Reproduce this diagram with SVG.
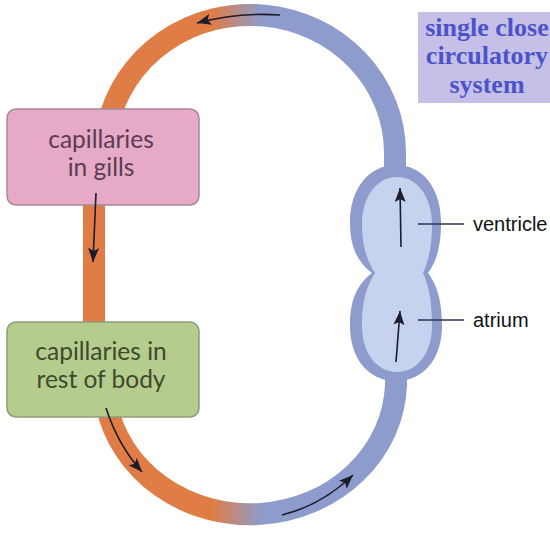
<svg xmlns="http://www.w3.org/2000/svg" width="550" height="534" viewBox="0 0 550 534">
  <style>
    .tube { fill: none; stroke-width: 22; }
    .flow { fill: none; stroke: #1c1c2a; stroke-width: 1.6; marker-end: url(#ah); }
    .lbl-line { stroke: #2b3550; stroke-width: 1.6; }
    .lbl { font-family: "Liberation Sans", Arial, sans-serif; font-size: 20px; fill: #111; }
    .box-text { font-family: Lato, "Open Sans", sans-serif; font-size: 24.5px; text-anchor: middle; }
    .title { font-family: "Liberation Serif", "Times New Roman", serif; font-weight: bold; font-size: 26px; fill: #4a54c8; text-anchor: middle; }
  </style>
  <defs>
    <linearGradient id="gTube" gradientUnits="userSpaceOnUse" x1="212" y1="0" x2="262" y2="0">
      <stop offset="0" stop-color="#E07D46"/>
      <stop offset="1" stop-color="#8D9BCD"/>
    </linearGradient>
    <marker id="ah" markerUnits="userSpaceOnUse" markerWidth="16" markerHeight="12" viewBox="0 0 16 12" refX="14" refY="6" orient="auto">
      <path d="M0 0.5 L14 6 L0 11.5 L3 6 Z" fill="#1c1c2a"/>
    </marker>
  </defs>

  <rect width="550" height="534" fill="#ffffff"/>

  <g id="connectors">
    <path class="tube" stroke="url(#gTube)" d="M 108 125 A 145 138 0 0 1 395 152 L 395 178"/>
    <path class="tube" stroke="#E07D46" d="M 94 200 L 94 330"/>
    <path class="tube" stroke="url(#gTube)" d="M 106.6 405 A 146 134 0 0 0 396 385 L 396 372"/>
  </g>

  <g id="heart">
    <path fill="#8D9BCD" d="M 396 165 C 424 165 441 190 441 222 C 441 248 436 262 428 273 C 436 284 442 298 442 326 C 442 358 424 381 396 381 C 368 381 350 358 350 326 C 350 298 358 284 372 273 C 358 262 350 248 350 222 C 350 190 368 165 396 165 Z"/>
    <path fill="#C6D3EE" d="M 397 177 C 418 177 432 198 432 224 C 432 248 428 262 423 273 C 428 284 432 298 432 326 C 432 352 418 372 397 372 C 376 372 362 352 362 326 C 362 298 368 284 375 273 C 368 262 362 248 362 224 C 362 198 376 177 397 177 Z"/>
  </g>

  <g id="gills">
    <rect x="7" y="109" width="192" height="96" rx="9" fill="#E6A9C6" stroke="#A7899A" stroke-width="1.5"/>
    <text class="box-text" x="101" y="148" fill="#5a3d52">capillaries</text>
    <text class="box-text" x="101" y="176" fill="#5a3d52">in gills</text>
  </g>

  <g id="body">
    <rect x="7" y="322" width="192" height="95" rx="9" fill="#B6CC8D" stroke="#8D9C7A" stroke-width="1.5"/>
    <text class="box-text" x="101" y="360" fill="#3c4a2e">capillaries in</text>
    <text class="box-text" x="101" y="388" fill="#3c4a2e">rest of body</text>
  </g>

  <g id="flow-arrows">
    <path class="flow" d="M 280 15 Q 238 12 197 23"/>
    <path class="flow" d="M 96 193 L 93 262"/>
    <path class="flow" d="M 106 408 Q 118 445 142 472"/>
    <path class="flow" d="M 282 515 Q 322 505 353 475"/>
    <path class="flow" d="M 401 247 L 400 188"/>
    <path class="flow" d="M 396 362 L 400 311"/>
  </g>

  <g id="ventricle-label">
    <line class="lbl-line" x1="418" y1="224" x2="464" y2="224"/>
    <text class="lbl" x="473" y="231">ventricle</text>
  </g>

  <g id="atrium-label">
    <line class="lbl-line" x1="418" y1="320" x2="464" y2="320"/>
    <text class="lbl" x="473" y="327">atrium</text>
  </g>

  <g id="title">
    <rect x="418" y="12" width="140" height="91" fill="#C6BFE8"/>
    <text class="title" x="487" y="36">single close</text>
    <text class="title" x="487" y="64">circulatory</text>
    <text class="title" x="487" y="93">system</text>
  </g>
</svg>
